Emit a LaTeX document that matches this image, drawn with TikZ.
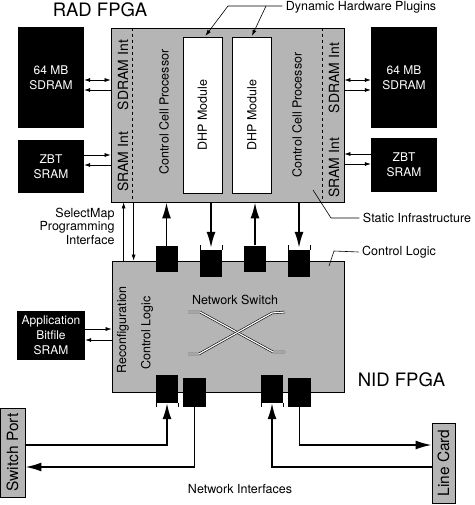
\documentclass[tikz,border=0pt]{standalone}
\usepackage{fontspec}
\setmainfont{TeX Gyre Heros}
\usetikzlibrary{arrows.meta,calc,positioning}
\newcommand{\bigfont}{\fontsize{18.5}{20}\selectfont}
\newcommand{\lblfont}{\fontsize{12.5}{13.5}\selectfont}
\newcommand{\stripfont}{\fontsize{14}{15}\selectfont}
\newcommand{\memfont}{\fontsize{12}{15}\selectfont}
\newcommand{\portfont}{\fontsize{15.5}{16}\selectfont}
\colorlet{fpgagray}{gray!58}
\tikzset{
    fpgasty/.style={draw,fill=fpgagray,rectangle,line width=0.8pt,inner sep=0pt},
    memsty/.style={fill=black,rectangle,inner sep=0pt,text=white,align=center,font=\memfont},
    dhpsty/.style={draw,fill=white,rectangle,inner sep=0pt,minimum width=39pt,minimum height=156pt},
    qsty/.style={fill=black,rectangle,inner sep=0pt,minimum width=22pt},
    portsty/.style={draw,fill=fpgagray,rectangle,inner sep=0pt,line width=0.8pt},
    vtxtsty/.style={rotate=90,font=\lblfont},
    striptxtsty/.style={rotate=90,font=\stripfont},
    lblsty/.style={font=\lblfont},
    thinsty/.style={line width=0.6pt},
    thicksty/.style={line width=1.8pt,-{Latex[length=16pt,width=9pt]}},
    wallsty/.style={line width=0.6pt},
    xbarsty/.style={draw=black,line width=0.6pt,double=white,double distance=1.2pt},
}

\begin{document}
\begin{tikzpicture}[x=1pt,y=-1pt,>={Latex[length=6pt,width=4pt]}]
\useasboundingbox (0,0) rectangle (474,505);

% RAD FPGA
\node[fpgasty,minimum width=233pt,minimum height=174pt] (rad) at (227.5,115) {};
\node[font=\bigfont] (radlbl) at (100,10) {RAD FPGA};
\draw[thinsty,dashed] ([xshift=22pt]rad.north west) -- ([xshift=22pt]rad.south west);
\draw[thinsty,dashed] ([xshift=-22pt]rad.north east) -- ([xshift=-22pt]rad.south east);
\node[striptxtsty] (sdramintL) at (123,75) {SDRAM Int};
\node[striptxtsty] (sramintL) at (123,162) {SRAM Int};
\node[striptxtsty] (sdramintR) at (334,78) {SDRAM Int};
\node[striptxtsty] (sramintR) at (334,168) {SRAM Int};
\node[vtxtsty] (ccpL) at (164,112) {Control Cell Processor};
\node[vtxtsty] (ccpR) at (297,115) {Control Cell Processor};
\node[dhpsty] (dhp1) at (202.5,115) {};
\node[dhpsty] (dhp2) at (252,115) {};
\node[vtxtsty] at (dhp1) {DHP Module};
\node[vtxtsty] at (dhp2) {DHP Module};

% memories
\node[memsty,minimum width=66pt,minimum height=101pt] (sdramL) at (51,77.5) {64 MB\\SDRAM};
\node[memsty,minimum width=66pt,minimum height=53pt] (zbtL) at (51,166.5) {ZBT\\SRAM};
\node[memsty,minimum width=66pt,minimum height=101pt] (sdramR) at (404,77.5) {64 MB\\SDRAM};
\node[memsty,minimum width=66pt,minimum height=54pt] (zbtR) at (404,165) {ZBT\\SRAM};
\node[memsty,minimum width=68pt,minimum height=49pt] (bitfile) at (51,335.5) {Application\\Bitfile\\SRAM};

\draw[thinsty,<->] (sdramL.east |- 0,80) -- (rad.west |- 0,80);
\draw[thinsty,<-] (sdramL.east |- 0,90) -- (rad.west |- 0,90);
\draw[thinsty,->] (zbtL.east |- 0,155) -- (rad.west |- 0,155);
\draw[thinsty,<-] (zbtL.east |- 0,165) -- (rad.west |- 0,165);
\draw[thinsty,<->] (sdramR.west |- 0,80) -- (rad.east |- 0,80);
\draw[thinsty,<-] (sdramR.west |- 0,90) -- (rad.east |- 0,90);
\draw[thinsty,->] (zbtR.west |- 0,154) -- (rad.east |- 0,154);
\draw[thinsty,<-] (zbtR.west |- 0,164) -- (rad.east |- 0,164);

% NID FPGA
\node[fpgasty,minimum width=232pt,minimum height=131pt] (nid) at (228,326.5) {};
\node[font=\bigfont] (nidlbl) at (401.5,380) {NID FPGA};
\node[vtxtsty] (reconf) at (123,330) {Reconfiguration};
\node[vtxtsty] (ctrllogic) at (147,333) {Control Logic};
\node[lblsty] (netsw) at (235,300) {Network Switch};
\draw[xbarsty] (188,312) -- (200,312) -- (273,352) -- (285,352);
\draw[xbarsty] (188,354) -- (199,354) -- (272,313) -- (285,312);

\draw[thinsty,->] (bitfile.east |- 0,329) -- (nid.west |- 0,329);
\draw[thinsty,<-] (bitfile.east |- 0,340) -- (nid.west |- 0,340);

% SelectMap
\node[lblsty,align=right,anchor=east] (smlbl) at (118,226) {SelectMap\\Programming\\Interface};
\draw[thinsty,->] ([xshift=12pt]nid.north west) -- ([xshift=12pt]nid.north west |- rad.south);
\draw[thinsty,->] ([xshift=22pt]nid.north west |- rad.south) -- ([xshift=22pt]nid.north west);

% queues
\node[qsty,minimum height=26pt] (q1) at (166.5,259) {};
\node[qsty,minimum height=27pt] (q2) at (211,263.5) {};
\node[qsty,minimum height=26pt] (q3) at (255,258.5) {};
\node[qsty,minimum height=27pt] (q4) at (299,263.5) {};
\node[qsty,minimum height=28pt] (b1) at (167,389) {};
\node[qsty,minimum height=29pt,minimum width=23pt] (b2) at (194.5,392.5) {};
\node[qsty,minimum height=28pt] (b3) at (272,389) {};
\node[qsty,minimum height=29pt,minimum width=23pt] (b4) at (299.5,392.5) {};
\foreach \q in {q2,q4} {
  \draw[wallsty] (\q.north west) -- ++(0,-5);
  \draw[wallsty] (\q.north east) -- ++(0,-5);
}
\foreach \q in {b1,b3} {
  \draw[wallsty] (\q.south west) -- ++(0,4);
  \draw[wallsty] (\q.south east) -- ++(0,4);
}

\draw[thicksty] (q1.north) -- (q1.north |- rad.south);
\draw[thicksty] (rad.south -| q2.north) -- ([yshift=2pt]q2.north);
\draw[thicksty] (q3.north) -- (q3.north |- rad.south);
\draw[thicksty] (rad.south -| q4.north) -- ([yshift=2pt]q4.north);

% network interfaces
\node[portsty,minimum width=25pt,minimum height=89pt] (swport) at (12.5,452.5) {};
\node[rotate=90,font=\portfont] at (swport) {Switch Port};
\node[portsty,minimum width=23pt,minimum height=80pt] (linecard) at (443.5,463) {};
\node[rotate=90,font=\portfont] at (linecard) {Line Card};
\node[lblsty] (netif) at (240,489) {Network Interfaces};

\draw[thicksty] (swport.east |- 0,445) -| (b1.south);
\draw[thicksty] (b2.south) |- (swport.east |- 0,467);
\draw[thicksty] (b4.south) |- (linecard.west |- 0,445);
\draw[thicksty] (linecard.west |- 0,467) -| (b3.south);

% callouts
\node[lblsty] (dhplbl) at (361,7) {Dynamic Hardware Plugins};
\coordinate (dhpknee) at (228,6);
\coordinate (dhpbranch) at (266,6);
\draw[thinsty,->] (dhplbl.west |- dhpknee) -- (dhpknee) -- ([xshift=3pt,yshift=1pt]dhp1.north);
\draw[thinsty,->] (dhpbranch) -- ([yshift=1pt]dhp2.north);
\node[lblsty] (silbl) at (417,218) {Static Infrastructure};
\coordinate (siknee) at (331,218);
\coordinate (sitip) at (313,190);
\draw[thinsty] (silbl.west) -- (siknee) -- (sitip);
\node[lblsty] (cllbl) at (399,252) {Control Logic};
\coordinate (clknee) at (334,251);
\coordinate (cltip) at (329,266);
\draw[thinsty] (cllbl.west) -- (clknee) -- (cltip);
\end{tikzpicture}
\end{document}
